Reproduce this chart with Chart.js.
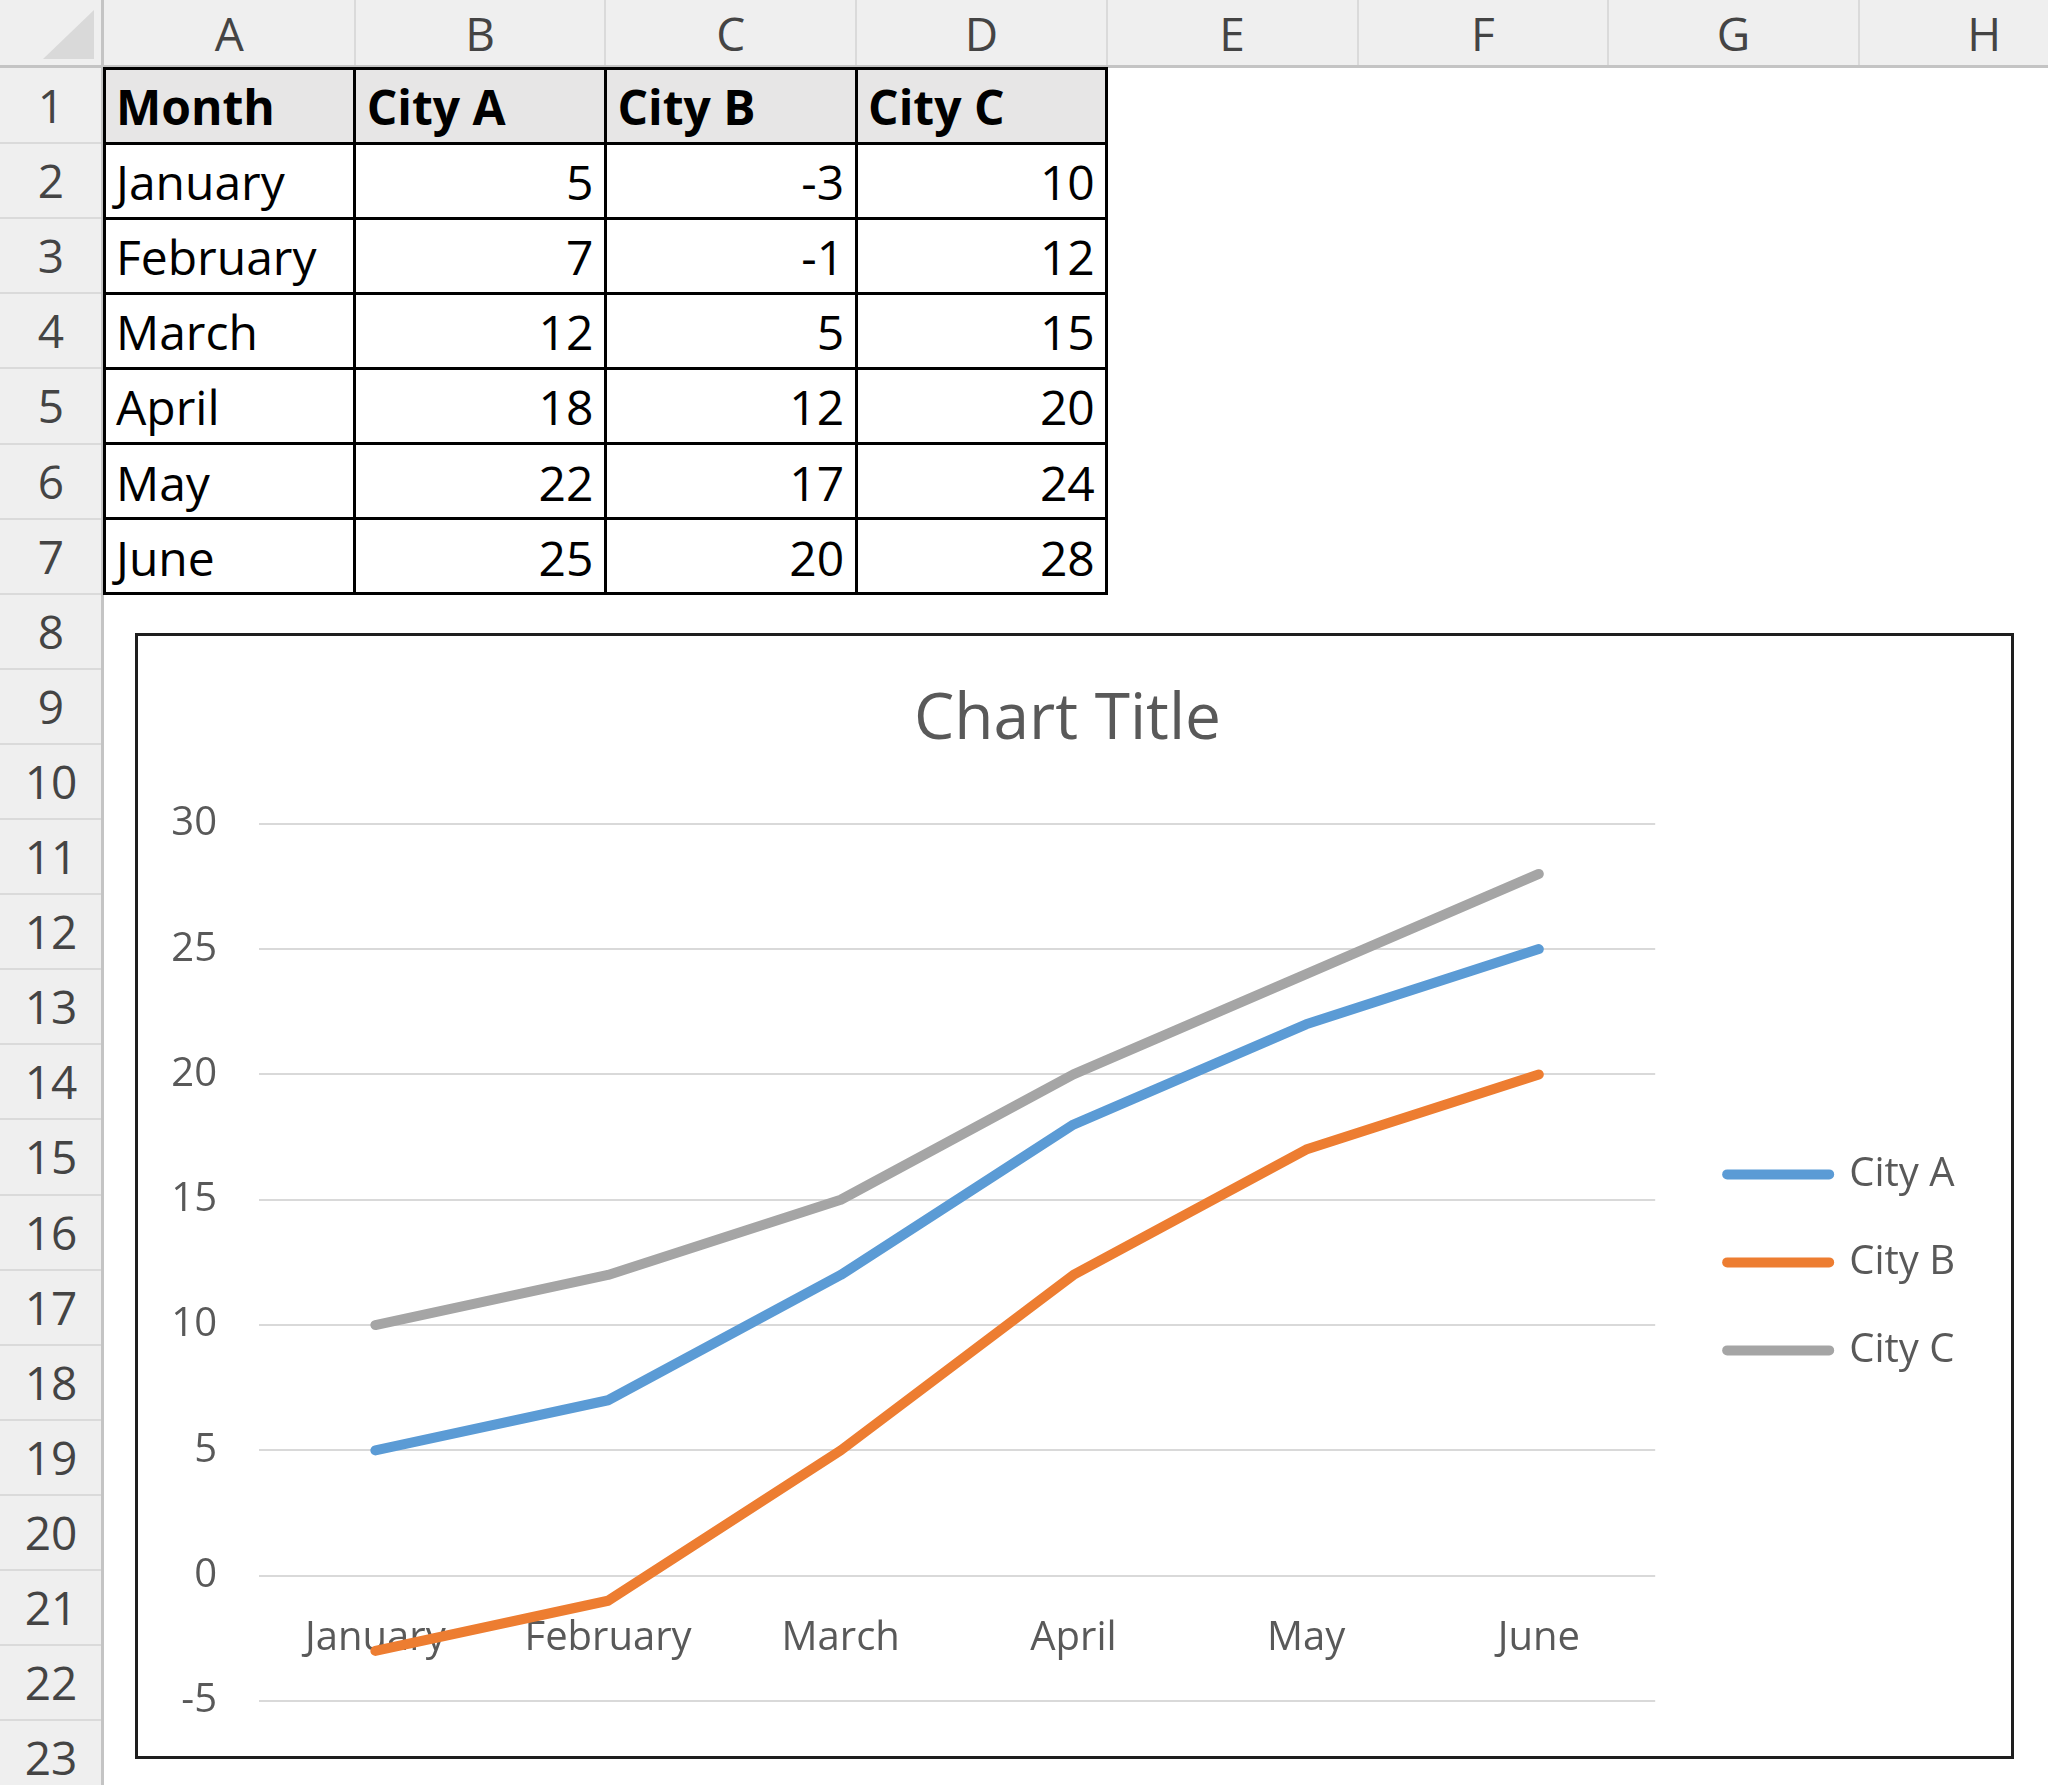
<!DOCTYPE html>
<html>
<head>
<meta charset="utf-8">
<script src="https://cdn.jsdelivr.net/npm/chart.js@4.4.1/dist/chart.umd.min.js"></script>
<style>
  html, body { margin: 0; padding: 0; background: #fff; }
  body { width: 2048px; height: 1785px; overflow: hidden; position: relative; font-family: "Open Sans", sans-serif; }
  #sheet div { position: absolute; }
  .hdr { background: #efefef; }
  .colhdr { top: 0; height: 68px; line-height: 66px; text-align: center; font-size: 46px; color: #444; }
  .rowhdr { left: 0; width: 102px; text-align: center; font-size: 46px; color: #444; }
  .cell { font-size: 48px; color: #000; white-space: nowrap; box-sizing: border-box; padding: 1px 12px 0 12px; }
  #chartBox { position: absolute; left: 135px; top: 633px; width: 1873px; height: 1120px; border: 3px solid #1e1e1e; background: #fff; }
</style>
</head>
<body>
<div id="sheet"></div>
<div id="chartBox"><canvas id="grafico"></canvas></div>
<script>
// data
const months = ["January", "February", "March", "April", "May", "June"];
const seriesNames = ["City A", "City B", "City C"];
const cityA = [5, 7, 12, 18, 22, 25];
const cityB = [-3, -1, 5, 12, 17, 20];
const cityC = [10, 12, 15, 20, 24, 28];
const yMin = -5, yMax = 30, yStep = 5;
const columnLetters = ["A", "B", "C", "D", "E", "F", "G", "H"];
const rowCount = 23;

// spreadsheet grid
const HEAD_H = 68, ROW_H = 75.1, ROW_HDR_W = 104, COL_W = 250.7;
const sheet = document.getElementById("sheet");
function add(cls, style, text) {
    const d = document.createElement("div");
    d.className = cls;
    Object.assign(d.style, style);
    if (text !== undefined) d.textContent = text;
    sheet.appendChild(d);
    return d;
}
const px = v => v + "px";
const colLeft = c => ROW_HDR_W + c * COL_W;
const rowTop = r => HEAD_H + r * ROW_H;

add("hdr", { left: "0px", top: "0px", width: "2048px", height: px(HEAD_H) });
add("hdr", { left: "0px", top: "0px", width: px(ROW_HDR_W), height: "1785px" });
add("", { left: "43px", top: "10px", width: "51px", height: "49px", background: "#d9d9d9", clipPath: "polygon(100% 0, 100% 100%, 0 100%)" });

columnLetters.forEach((l, c) => {
    add("colhdr", { left: px(colLeft(c)), width: px(COL_W) }, l);
    add("", { left: px(colLeft(c + 1) - 1), top: "0px", width: "2px", height: px(HEAD_H), background: "#dadada" });
});
for (let r = 0; r < rowCount; r++) {
    add("rowhdr", { top: px(rowTop(r)), height: px(ROW_H), lineHeight: px(ROW_H) }, String(r + 1));
    add("", { left: "0px", top: px(rowTop(r + 1) - 1), width: px(ROW_HDR_W - 3), height: "2px", background: "#dadada" });
}
add("", { left: "0px", top: px(HEAD_H - 3), width: "2048px", height: "3px", background: "#c4c4c4" });
add("", { left: px(ROW_HDR_W - 3), top: "0px", width: "3px", height: "1785px", background: "#c4c4c4" });

// table cells
const tableRows = [["Month"].concat(seriesNames)].concat(months.map((m, i) => [m, cityA[i], cityB[i], cityC[i]]));
tableRows.forEach((row, r) => {
    row.forEach((v, c) => {
        const style = {
            left: px(colLeft(c)), top: px(rowTop(r)), width: px(COL_W), height: px(ROW_H), lineHeight: px(ROW_H),
            textAlign: typeof v === "number" ? "right" : "left"
        };
        if (r === 0) { style.background = "#e7e6e6"; style.fontWeight = "bold"; }
        add("cell", style, String(v));
    });
});
for (let r = 0; r <= tableRows.length; r++) {
    add("", { left: px(colLeft(0) - 1.5), top: px(rowTop(r) - 1.5), width: px(4 * COL_W + 3), height: "3px", background: "#000" });
}
for (let c = 0; c <= 4; c++) {
    add("", { left: px(colLeft(c) - 1.5), top: px(rowTop(0) - 1.5), width: "3px", height: px(tableRows.length * ROW_H + 3), background: "#000" });
}

// chart
Chart.defaults.font.family = "'Open Sans', sans-serif";
Chart.defaults.color = "#595959";
const lineColors = ["#5B9BD5", "#ED7D31", "#A5A5A5"];
const seriesValues = [cityA, cityB, cityC];

new Chart(document.getElementById("grafico"), {
    type: "line",
    data: {
        labels: months,
        datasets: seriesNames.map((name, i) => ({
            label: name,
            data: seriesValues[i],
            borderColor: lineColors[i],
            backgroundColor: lineColors[i],
            pointBorderColor: lineColors[i],
            borderWidth: 10,
            pointBorderWidth: 10,
            borderCapStyle: "round",
            borderJoinStyle: "round",
            pointRadius: 0,
            tension: 0,
            fill: false
        }))
    },
    options: {
        responsive: true,
        maintainAspectRatio: false,
        animation: false,
        layout: { padding: { left: 32, right: 46, top: 0, bottom: 55 } },
        plugins: {
            title: {
                display: true,
                text: "Chart Title",
                color: "#595959",
                font: { size: 64, weight: "normal" },
                padding: { top: 46, bottom: 65 }
            },
            legend: {
                position: "right",
                fullSize: false,
                labels: {
                    usePointStyle: true,
                    pointStyle: "line",
                    pointStyleWidth: 102,
                    padding: 48,
                    color: "#595959",
                    font: { size: 40 },
                    generateLabels: chart => Chart.defaults.plugins.legend.labels.generateLabels(chart)
                        .map(item => ({ ...item, lineCap: "round", lineWidth: 10 }))
                }
            },
            tooltip: { enabled: false }
        },
        scales: {
            x: {
                position: { y: 0 },
                offset: true,
                grid: { display: false, drawTicks: false },
                border: { display: false },
                ticks: { color: "#595959", font: { size: 40 }, padding: 39, maxRotation: 0, autoSkip: false }
            },
            y: {
                min: yMin,
                max: yMax,
                ticks: { stepSize: yStep, color: "#595959", font: { size: 40 }, padding: 42 },
                grid: { color: "#D9D9D9", lineWidth: 2, drawTicks: false },
                border: { display: false },
                afterFit: s => { s.width = 89; s.paddingTop = 0; s.paddingBottom = 0; }
            },
            // empty room between plot and legend
            legendGap: {
                type: "linear",
                position: "right",
                grid: { display: false, drawTicks: false },
                border: { display: false },
                ticks: { display: false },
                afterFit: s => { s.width = 24; }
            }
        }
    }
});
</script>
</body>
</html>
